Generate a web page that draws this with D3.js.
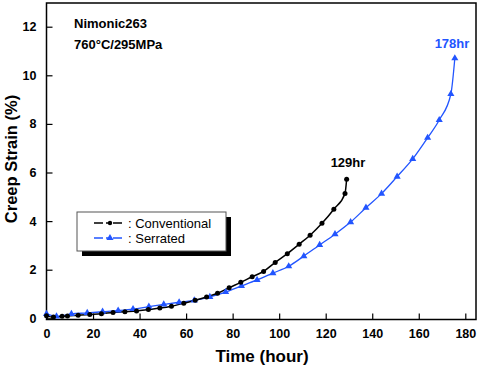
<!DOCTYPE html>
<html><head><meta charset="utf-8">
<script src="https://cdn.jsdelivr.net/npm/d3@7"></script>
<style>body{margin:0;background:#fff}svg{display:block}text{font-family:Arial,"Liberation Sans",sans-serif}</style>
</head><body>
<svg id="c" width="480" height="370"></svg>
<script>
const convT = [0, 3, 6.7, 9, 13.6, 18.6, 23.6, 28.6, 33.7, 38.7, 43.8, 48.7, 53.7, 59, 63.9, 68.8, 73.5, 78.5, 83.5, 88.4, 93.3, 98.3, 103.5, 108.6, 113.3, 118.4, 123.5, 128.3, 129];
const convV = [0.1, 0.05, 0.08, 0.09, 0.13, 0.16, 0.19, 0.24, 0.27, 0.30, 0.36, 0.42, 0.50, 0.62, 0.74, 0.88, 1.03, 1.26, 1.48, 1.71, 1.93, 2.30, 2.66, 3.05, 3.42, 3.91, 4.49, 5.14, 5.72];
const serT = [0, 4.3, 10.7, 17.5, 24.1, 30.8, 37.2, 44, 50.4, 57, 63.5, 70.2, 77, 83.8, 90.5, 97.3, 104.1, 110.6, 117.4, 124, 130.7, 137.3, 144, 150.7, 157.4, 163.8, 168.8, 173.8, 175.5];
const serV = [0.18, 0.08, 0.18, 0.22, 0.27, 0.32, 0.38, 0.48, 0.57, 0.66, 0.74, 0.88, 1.08, 1.33, 1.58, 1.86, 2.14, 2.56, 3.02, 3.46, 3.96, 4.55, 5.13, 5.83, 6.56, 7.43, 8.16, 9.23, 10.7];
const xTicks = [0, 20, 40, 60, 80, 100, 120, 140, 160, 180];
const yTicks = [0, 2, 4, 6, 8, 10, 12];
const seriesNames = ["Conventional", "Serrated"];

const blue = "#2255ff";
const svg = d3.select("#c");
const L = 46.5, R = 476, T = 3, B = 319.5;
const x = d3.scaleLinear().domain([0, 184.6]).range([L, R]);
const y = d3.scaleLinear().domain([0, 13]).range([318.3, 318.3 - 13 * 24.3]);

// frame
svg.append("rect").attr("x", L).attr("y", T).attr("width", R - L).attr("height", B - T)
  .attr("fill", "none").attr("stroke", "#000").attr("stroke-width", 1.5);

// x axis ticks (inward)
const xAx = svg.append("g").attr("transform", `translate(0,${B})`);
xAx.call(d3.axisBottom(x).tickValues(d3.range(10, 190, 20)).tickSize(-3).tickFormat(""));
xAx.call(d3.axisBottom(x).tickValues(xTicks).tickSize(-6).tickPadding(10).tickFormat(d3.format("d")));
xAx.selectAll(".domain").remove();
xAx.selectAll("line").attr("stroke", "#000").attr("stroke-width", 1.2);
xAx.selectAll("text").attr("font-size", 12.5).attr("font-weight", "bold").attr("fill", "#000")
  .attr("font-family", "Arial, 'Liberation Sans', sans-serif");

const yAx = svg.append("g").attr("transform", `translate(${L},0)`);
yAx.call(d3.axisLeft(y).tickValues(d3.range(1, 13, 2)).tickSize(-3).tickFormat(""));
yAx.call(d3.axisLeft(y).tickValues(yTicks).tickSize(-6).tickPadding(10).tickFormat(d3.format("d")));
yAx.selectAll(".domain").remove();
yAx.selectAll("line").attr("stroke", "#000").attr("stroke-width", 1.2);
yAx.selectAll("text").attr("font-size", 12.5).attr("font-weight", "bold").attr("fill", "#000")
  .attr("font-family", "Arial, 'Liberation Sans', sans-serif");

// axis titles
svg.append("text").attr("x", 262).attr("y", 362).attr("text-anchor", "middle")
  .attr("font-size", 17).attr("font-weight", "bold").text("Time (hour)");
svg.append("text").attr("transform", "translate(17,159) rotate(-90)").attr("text-anchor", "middle")
  .attr("font-size", 16.5).attr("font-weight", "bold").text("Creep Strain (%)");

// annotations
svg.append("text").attr("x", 74).attr("y", 28).attr("font-size", 13).attr("font-weight", "bold").text("Nimonic263");
svg.append("text").attr("x", 74).attr("y", 49).attr("font-size", 13).attr("font-weight", "bold").text("760°C/295MPa");
svg.append("text").attr("x", 348).attr("y", 167).attr("text-anchor", "middle").attr("font-size", 13).attr("font-weight", "bold").text("129hr");
svg.append("text").attr("x", 452).attr("y", 48).attr("text-anchor", "middle").attr("font-size", 13).attr("font-weight", "bold").attr("fill", blue).text("178hr");

// series
const conv = convT.map((t, i) => [t, convV[i]]);
const ser = serT.map((t, i) => [t, serV[i]]);
const line = d3.line().x(d => x(d[0])).y(d => y(d[1])).curve(d3.curveMonotoneX);
svg.append("path").attr("d", line(ser)).attr("fill", "none").attr("stroke", blue).attr("stroke-width", 1.3);
svg.append("path").attr("d", line(conv)).attr("fill", "none").attr("stroke", "#000").attr("stroke-width", 1.5);
const tri = d3.symbol().type(d3.symbolTriangle).size(22);
svg.append("g").selectAll("path").data(ser).join("path")
  .attr("d", tri).attr("transform", d => `translate(${x(d[0])},${y(d[1])})`).attr("fill", blue);
svg.append("g").selectAll("circle").data(conv).join("circle")
  .attr("cx", d => x(d[0])).attr("cy", d => y(d[1])).attr("r", 2.5).attr("fill", "#000");

// legend
const lg = svg.append("g");
lg.append("rect").attr("x", 82).attr("y", 217).attr("width", 149).attr("height", 39).attr("fill", "#000");
lg.append("rect").attr("x", 77).attr("y", 212).attr("width", 149).attr("height", 39)
  .attr("fill", "#fff").attr("stroke", "#555").attr("stroke-width", 1);
const rows = [{c: "#000", n: seriesNames[0], y: 223, m: "c"}, {c: blue, n: seriesNames[1], y: 238, m: "t"}];
rows.forEach(r => {
  lg.append("line").attr("x1", 94).attr("x2", 126).attr("y1", r.y).attr("y2", r.y)
    .attr("stroke", r.c).attr("stroke-width", 1.3).attr("stroke-dasharray", "9,3,4,3,9");
  if (r.m === "c") lg.append("circle").attr("cx", 110).attr("cy", r.y).attr("r", 2.2).attr("fill", r.c);
  else lg.append("path").attr("d", tri).attr("transform", `translate(110,${r.y})`).attr("fill", r.c);
  lg.append("text").attr("x", 128).attr("y", r.y + 4.5).attr("font-size", 13).text(": " + r.n);
});
</script>
</body></html>
